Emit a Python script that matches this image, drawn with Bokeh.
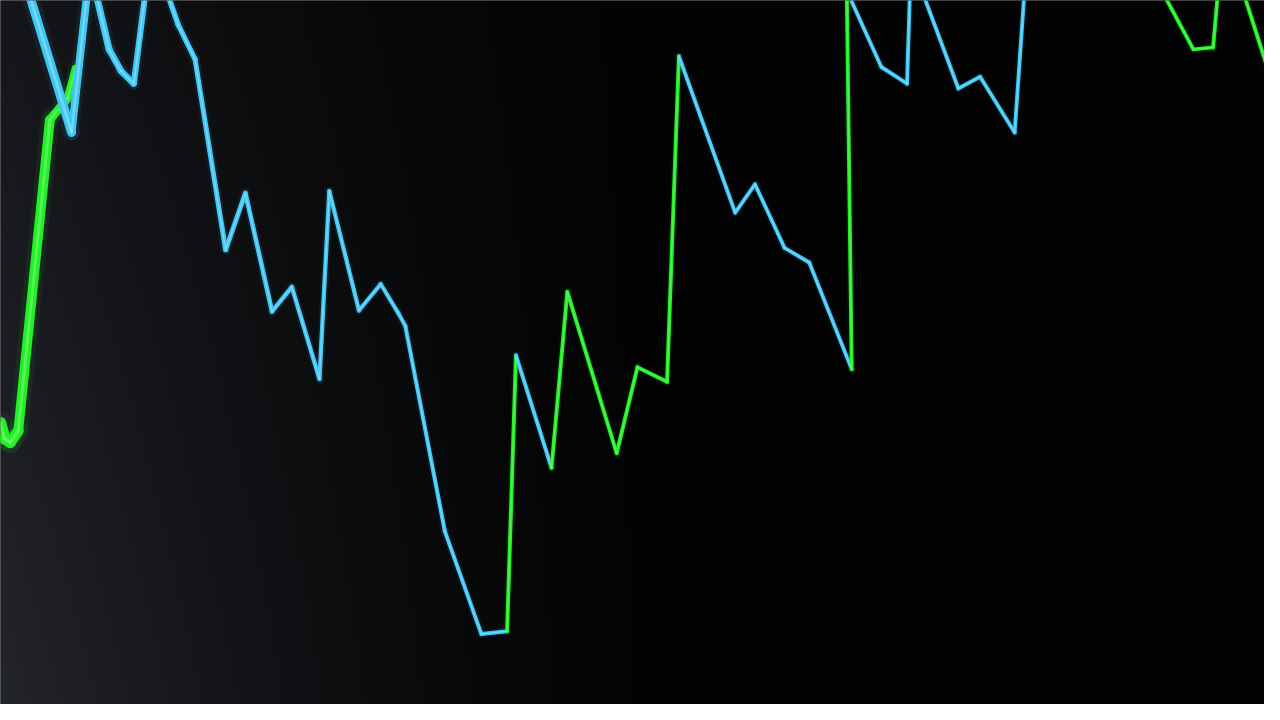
import numpy as np
from bokeh.plotting import figure
from bokeh.models import Range1d, ColumnDataSource
from bokeh.embed import file_html
from bokeh.resources import INLINE

# ---------------- data ----------------
# main trace: sample position and level (level = height above chart floor)
main_x = [28, 72, 88, 96, 110, 122, 135, 147, 168, 180, 197, 228, 248, 275, 295,
          323, 333, 363, 385, 403, 410, 450, 487, 513, 522, 558, 574, 624, 645,
          675, 687, 744, 764, 794, 819, 862, 857, 892, 918, 921, 933, 970, 992,
          1027, 1037, 1100, 1176, 1208, 1228, 1233, 1246, 1258, 1284]
main_level = [730, 585, 730, 730, 670, 648, 635, 730, 730, 695, 660, 465, 523, 402,
              427, 333, 525, 403, 430, 400, 387, 177, 72, 75, 357, 242, 422, 257,
              345, 330, 663, 503, 532, 467, 452, 343, 730, 652, 635, 730, 730, 630,
              642, 585, 730, 800, 730, 670, 672, 730, 760, 730, 648]
# regime of each segment (segment k joins point k and k+1): "g" = bull, "b" = bear
main_regime = (["b"] * 23 + ["g"] + ["b"] + ["g"] * 5 + ["b"] * 5 + ["g"] +
               ["b"] * 8 + ["g"] * 8)

# second (earlier) trace at the left edge
left_x = [0, 4, 10, 18, 50, 68, 76]
left_level = [288, 272, 268, 280, 598, 620, 650]

# ---------------- style ----------------
COL = {"g": "#22ef25", "b": "#3ec6f5"}
CORE = {"g": "#9dff9a", "b": "#c8f2ff"}
W, H = 1264, 704

p = figure(width=W, height=H, x_range=Range1d(0, 1280), y_range=Range1d(0, 720),
           output_backend="svg", toolbar_location=None, min_border=0)
p.axis.visible = False
p.grid.visible = False
p.outline_line_color = None
p.background_fill_color = "#030304"
p.border_fill_color = "#030304"

# subtle screen vignette (brighter toward lower-left), decoration only
ny, nx = 360, 660
gx = np.linspace(0, 1, nx)[None, :]
gy = np.linspace(0, 1, ny)[:, None]          # 0 = bottom row
g = np.clip(1 - gx * 1320 / 740, 0, 1) ** 1.6 * (1.0 - 0.45 * gy)
base = np.array([34, 36, 43], dtype=float)
img = np.zeros((ny, nx, 4), dtype=np.uint8)
for c in range(3):
    img[..., c] = np.clip(3 + g * base[c], 0, 255).astype(np.uint8)
img[..., 3] = 255
p.image_rgba(image=[img.view(dtype=np.uint32).reshape(ny, nx)],
             x=-20, y=-10, dw=1320, dh=740)


def width_at(x):
    return 3.9 + 8.0 * np.exp(-np.asarray(x, dtype=float) / 110.0)


def segments(xs, ys, regimes):
    sx, sy, col, core, w = [], [], [], [], []
    for k in range(len(xs) - 1):
        sx.append([xs[k], xs[k + 1]])
        sy.append([ys[k], ys[k + 1]])
        r = regimes[k]
        col.append(COL[r])
        core.append(CORE[r])
        w.append(float(width_at(0.5 * (xs[k] + xs[k + 1]))))
    w = np.array(w)
    return ColumnDataSource(dict(xs=sx, ys=sy, col=col, core=core, w=w,
                                 glow=w * 1.9, wc=w * 0.3))


def draw(src):
    p.multi_line("xs", "ys", source=src, line_color="col", line_width="glow",
                 line_alpha=0.07, line_cap="round", line_join="round")
    p.multi_line("xs", "ys", source=src, line_color="col", line_width="w",
                 line_alpha=1.0, line_cap="round", line_join="round")
    p.multi_line("xs", "ys", source=src, line_color="core", line_width="wc",
                 line_alpha=0.4, line_cap="round", line_join="round")


draw(segments(left_x, left_level, ["g"] * (len(left_x) - 1)))
draw(segments(main_x, main_level, main_regime))

open("out.html", "w").write(file_html(p, INLINE))
